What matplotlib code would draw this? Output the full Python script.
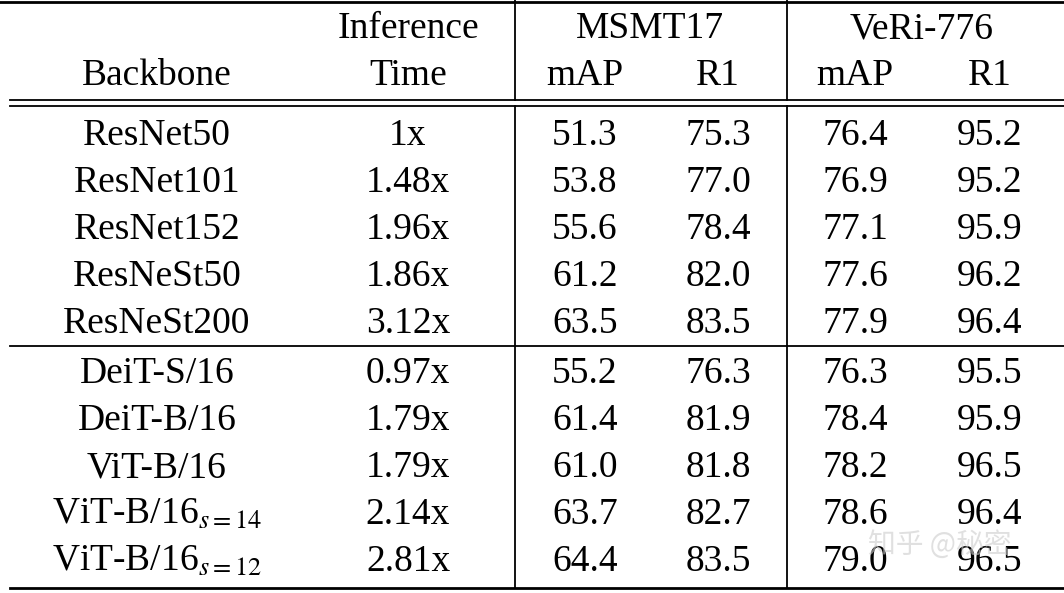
import matplotlib
matplotlib.use("Agg")
import matplotlib.pyplot as plt

plt.rcParams['mathtext.fontset'] = 'stix'

backbones = ["ResNet50", "ResNet101", "ResNet152", "ResNeSt50", "ResNeSt200",
             "DeiT-S/16", "DeiT-B/16", "ViT-B/16", "ViT-B/16$_{s=14}$", "ViT-B/16$_{s=12}$"]
inference = ["1x", "1.48x", "1.96x", "1.86x", "3.12x", "0.97x", "1.79x", "1.79x", "2.14x", "2.81x"]
msmt_map = ["51.3", "53.8", "55.6", "61.2", "63.5", "55.2", "61.4", "61.0", "63.7", "64.4"]
msmt_r1 = ["75.3", "77.0", "78.4", "82.0", "83.5", "76.3", "81.9", "81.8", "82.7", "83.5"]
veri_map = ["76.4", "76.9", "77.1", "77.6", "77.9", "76.3", "78.4", "78.2", "78.6", "79.0"]
veri_r1 = ["95.2", "95.2", "95.9", "96.2", "96.4", "95.5", "95.9", "96.5", "96.4", "96.5"]

W, H = 1064, 593
fig = plt.figure(figsize=(W/100, H/100), dpi=100)
ax = fig.add_axes([0, 0, 1, 1])
ax.set_xlim(0, W); ax.set_ylim(H, 0); ax.axis('off')

fs = 27
kw = dict(fontsize=fs, family='Liberation Serif', ha='center', va='center', color='black')
cols = [157, 408, 585, 718, 855, 990]
dy = 4

ax.text(408, 25 + dy, "Inference", **kw)
ax.text(650, 25 + dy, "MSMT17", **kw)
ax.text(922, 25 + dy, "VeRi-776", **kw)
for x, t in zip(cols, ["Backbone", "Time", "mAP", "R1", "mAP", "R1"]):
    ax.text(x, 72 + dy, t, **kw)

rows_y = [132, 179, 226, 273, 320, 370, 417, 464, 511, 558]
for i, y in enumerate(rows_y):
    for x, arr in zip(cols, [backbones, inference, msmt_map, msmt_r1, veri_map, veri_r1]):
        ax.text(x, y + dy, arr[i], **kw)

lw = 1.3
ax.plot([0, W], [1.5, 1.5], color='black', lw=2)
ax.plot([10, W], [100, 100], color='black', lw=lw)
ax.plot([10, W], [106, 106], color='black', lw=lw)
ax.plot([10, W], [346, 346], color='black', lw=lw)
ax.plot([10, W], [588, 588], color='black', lw=2)
for x in [515, 787]:
    ax.plot([x, x], [0, 100], color='black', lw=lw)
    ax.plot([x, x], [106, 588], color='black', lw=lw)

ax.text(940, 545, "知乎 @秘密", fontsize=20, family=['Noto Sans CJK SC', 'DejaVu Sans'],
        ha='center', va='center', color='#cccccc', alpha=0.6)

fig.savefig("out.png", dpi=100)
